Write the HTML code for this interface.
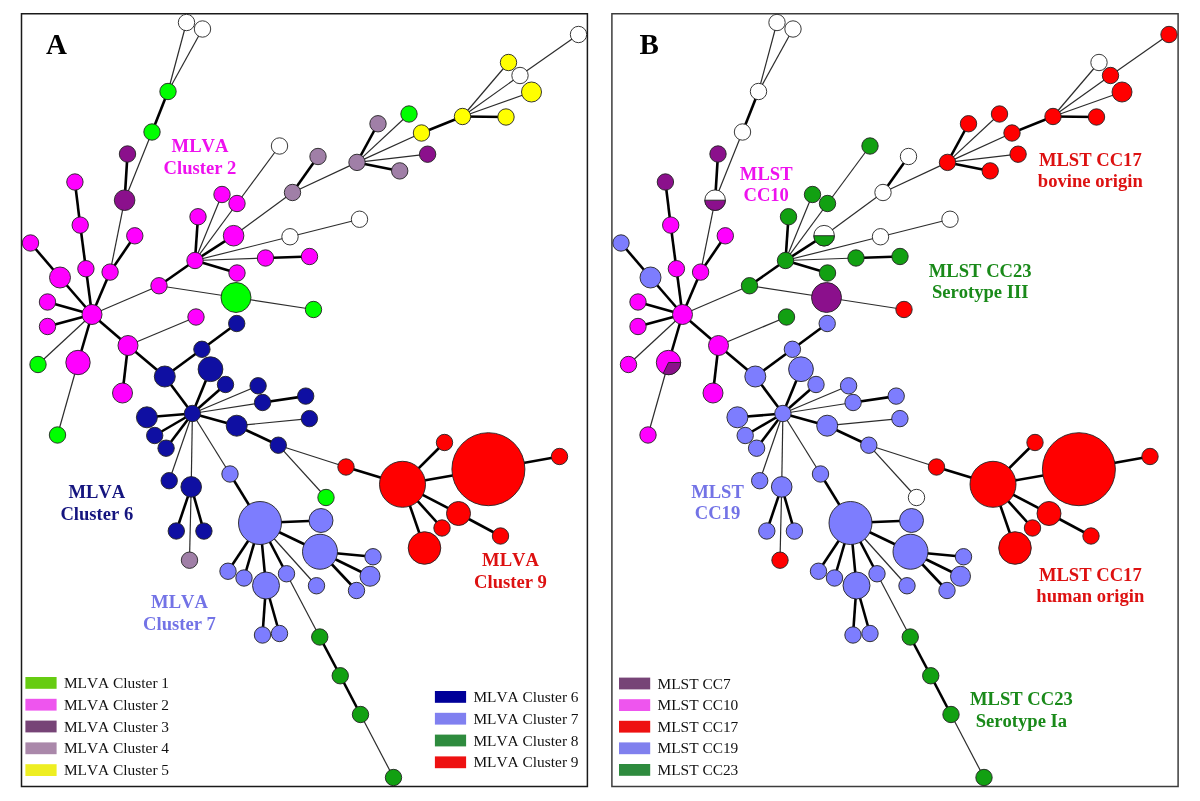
<!DOCTYPE html>
<html><head><meta charset="utf-8"><title>MLVA and MLST minimum spanning trees</title>
<style>
html,body{margin:0;padding:0;background:#fff;}
body{width:1200px;height:801px;overflow:hidden;}
svg{display:block;}
.t{stroke:#2c2c2c;stroke-width:1.2;}
.T{stroke:#000;stroke-width:2.6;}
.n{stroke:#222;stroke-width:0.9;}
.fr{fill:none;stroke-width:1.5;}
text{font-family:"Liberation Serif","Times New Roman",serif;font-kerning:none;}
.lb{font-weight:bold;font-size:18.6px;text-anchor:middle;}
.lg{font-size:15.4px;fill:#111;}
.big{font-weight:bold;font-size:29px;fill:#000;}
</style></head>
<body>
<svg width="1200" height="801" viewBox="0 0 1200 801">
<rect width="1200" height="801" fill="#fff"/>
<rect x="21.5" y="13.75" width="565.9" height="772.75" class="fr" stroke="#1a1a1a"/>
<rect x="611.9" y="13.75" width="566.2" height="772.75" class="fr" stroke="#3c3c3c"/>
<line x1="186.5" y1="22.5" x2="168" y2="91.5" class="t"/>
<line x1="202.5" y1="29" x2="168" y2="91.5" class="t"/>
<line x1="152" y1="132" x2="124.6" y2="200.2" class="t"/>
<line x1="124.6" y1="200.2" x2="110.1" y2="272.1" class="t"/>
<line x1="92" y1="314.5" x2="38" y2="364.5" class="t"/>
<line x1="92" y1="314.5" x2="159" y2="285.75" class="t"/>
<line x1="78" y1="362.5" x2="57.5" y2="435" class="t"/>
<line x1="128" y1="345.5" x2="196" y2="317" class="t"/>
<line x1="195" y1="260.5" x2="222" y2="194.5" class="t"/>
<line x1="195" y1="260.5" x2="237" y2="203.5" class="t"/>
<line x1="195" y1="260.5" x2="290" y2="236.75" class="t"/>
<line x1="195" y1="260.5" x2="265.5" y2="258" class="t"/>
<line x1="237" y1="203.5" x2="279.5" y2="146" class="t"/>
<line x1="233.6" y1="235.7" x2="292.5" y2="192.5" class="t"/>
<line x1="292.5" y1="192.5" x2="357" y2="162.4" class="t"/>
<line x1="357" y1="162.4" x2="409" y2="114" class="t"/>
<line x1="357" y1="162.4" x2="421.5" y2="133" class="t"/>
<line x1="357" y1="162.4" x2="427.6" y2="154.2" class="t"/>
<line x1="462.5" y1="116.5" x2="508.5" y2="62.5" class="t"/>
<line x1="462.5" y1="116.5" x2="520" y2="75.5" class="t"/>
<line x1="462.5" y1="116.5" x2="531.5" y2="92" class="t"/>
<line x1="520" y1="75.5" x2="578.5" y2="34.5" class="t"/>
<line x1="290" y1="236.75" x2="359.5" y2="219.25" class="t"/>
<line x1="159" y1="285.75" x2="236" y2="297.5" class="t"/>
<line x1="236" y1="297.5" x2="313.5" y2="309.5" class="t"/>
<line x1="192.4" y1="413.5" x2="258.1" y2="385.8" class="t"/>
<line x1="192.4" y1="413.5" x2="262.6" y2="402.5" class="t"/>
<line x1="236.7" y1="425.7" x2="309.4" y2="418.6" class="t"/>
<line x1="278.3" y1="445.2" x2="346" y2="467" class="t"/>
<line x1="278.3" y1="445.2" x2="326" y2="497.5" class="t"/>
<line x1="192.4" y1="413.5" x2="169.2" y2="480.7" class="t"/>
<line x1="192.4" y1="413.5" x2="191.2" y2="486.9" class="t"/>
<line x1="192.4" y1="413.5" x2="230" y2="474" class="t"/>
<line x1="191.2" y1="486.9" x2="189.5" y2="560.2" class="t"/>
<line x1="260" y1="523" x2="316.5" y2="585.75" class="t"/>
<line x1="286.5" y1="573.75" x2="319.75" y2="637" class="t"/>
<line x1="360.5" y1="714.5" x2="393.5" y2="777.5" class="t"/>
<line x1="168" y1="91.5" x2="152" y2="132" class="T"/>
<line x1="127.5" y1="154" x2="124.6" y2="200.2" class="T"/>
<line x1="74.9" y1="182" x2="80.2" y2="225.1" class="T"/>
<line x1="80.2" y1="225.1" x2="85.9" y2="268.7" class="T"/>
<line x1="85.9" y1="268.7" x2="92" y2="314.5" class="T"/>
<line x1="30.5" y1="243" x2="60" y2="277.5" class="T"/>
<line x1="60" y1="277.5" x2="92" y2="314.5" class="T"/>
<line x1="110.1" y1="272.1" x2="134.8" y2="235.8" class="T"/>
<line x1="110.1" y1="272.1" x2="92" y2="314.5" class="T"/>
<line x1="47.5" y1="302" x2="92" y2="314.5" class="T"/>
<line x1="47.5" y1="326.5" x2="92" y2="314.5" class="T"/>
<line x1="92" y1="314.5" x2="78" y2="362.5" class="T"/>
<line x1="92" y1="314.5" x2="128" y2="345.5" class="T"/>
<line x1="128" y1="345.5" x2="122.5" y2="393" class="T"/>
<line x1="128" y1="345.5" x2="164.8" y2="376.5" class="T"/>
<line x1="159" y1="285.75" x2="195" y2="260.5" class="T"/>
<line x1="195" y1="260.5" x2="198" y2="216.75" class="T"/>
<line x1="195" y1="260.5" x2="233.6" y2="235.7" class="T"/>
<line x1="195" y1="260.5" x2="237" y2="273" class="T"/>
<line x1="265.5" y1="258" x2="309.5" y2="256.5" class="T"/>
<line x1="292.5" y1="192.5" x2="318" y2="156.5" class="T"/>
<line x1="357" y1="162.4" x2="378" y2="123.75" class="T"/>
<line x1="357" y1="162.4" x2="399.7" y2="170.9" class="T"/>
<line x1="421.5" y1="133" x2="462.5" y2="116.5" class="T"/>
<line x1="462.5" y1="116.5" x2="506" y2="117" class="T"/>
<line x1="236.7" y1="323.5" x2="201.9" y2="349.3" class="T"/>
<line x1="201.9" y1="349.3" x2="164.8" y2="376.5" class="T"/>
<line x1="164.8" y1="376.5" x2="192.4" y2="413.5" class="T"/>
<line x1="192.4" y1="413.5" x2="210.5" y2="369.2" class="T"/>
<line x1="192.4" y1="413.5" x2="225.5" y2="384.5" class="T"/>
<line x1="262.6" y1="402.5" x2="305.7" y2="396.1" class="T"/>
<line x1="192.4" y1="413.5" x2="146.9" y2="417.3" class="T"/>
<line x1="192.4" y1="413.5" x2="154.7" y2="435.5" class="T"/>
<line x1="192.4" y1="413.5" x2="166.1" y2="448.2" class="T"/>
<line x1="192.4" y1="413.5" x2="236.7" y2="425.7" class="T"/>
<line x1="236.7" y1="425.7" x2="278.3" y2="445.2" class="T"/>
<line x1="191.2" y1="486.9" x2="176.3" y2="531" class="T"/>
<line x1="191.2" y1="486.9" x2="203.9" y2="531.1" class="T"/>
<line x1="230" y1="474" x2="260" y2="523" class="T"/>
<line x1="346" y1="467" x2="402.5" y2="484.3" class="T"/>
<line x1="402.5" y1="484.3" x2="444.5" y2="442.5" class="T"/>
<line x1="402.5" y1="484.3" x2="488.4" y2="469.2" class="T"/>
<line x1="488.4" y1="469.2" x2="559.5" y2="456.5" class="T"/>
<line x1="402.5" y1="484.3" x2="458.5" y2="513.5" class="T"/>
<line x1="458.5" y1="513.5" x2="500.5" y2="536" class="T"/>
<line x1="402.5" y1="484.3" x2="442" y2="528" class="T"/>
<line x1="402.5" y1="484.3" x2="424.5" y2="548" class="T"/>
<line x1="260" y1="523" x2="321" y2="520.5" class="T"/>
<line x1="260" y1="523" x2="320" y2="551.75" class="T"/>
<line x1="260" y1="523" x2="228" y2="571.25" class="T"/>
<line x1="260" y1="523" x2="244" y2="578" class="T"/>
<line x1="260" y1="523" x2="266" y2="585.5" class="T"/>
<line x1="260" y1="523" x2="286.5" y2="573.75" class="T"/>
<line x1="320" y1="551.75" x2="373" y2="556.75" class="T"/>
<line x1="320" y1="551.75" x2="370" y2="576.25" class="T"/>
<line x1="320" y1="551.75" x2="356.5" y2="590.5" class="T"/>
<line x1="266" y1="585.5" x2="262.5" y2="635" class="T"/>
<line x1="266" y1="585.5" x2="279.5" y2="633.5" class="T"/>
<line x1="319.75" y1="637" x2="340.25" y2="675.75" class="T"/>
<line x1="340.25" y1="675.75" x2="360.5" y2="714.5" class="T"/>
<circle cx="186.5" cy="22.5" r="8.2" fill="#ffffff" class="n"/>
<circle cx="202.5" cy="29" r="8.2" fill="#ffffff" class="n"/>
<circle cx="168" cy="91.5" r="8.2" fill="#00ff00" class="n"/>
<circle cx="152" cy="132" r="8.2" fill="#00ff00" class="n"/>
<circle cx="127.5" cy="154" r="8.2" fill="#8b108c" class="n"/>
<circle cx="124.6" cy="200.2" r="10.3" fill="#8b108c" class="n"/>
<circle cx="74.9" cy="182" r="8.2" fill="#ff00ff" class="n"/>
<circle cx="80.2" cy="225.1" r="8.2" fill="#ff00ff" class="n"/>
<circle cx="85.9" cy="268.7" r="8.2" fill="#ff00ff" class="n"/>
<circle cx="30.5" cy="243" r="8.2" fill="#ff00ff" class="n"/>
<circle cx="60" cy="277.5" r="10.5" fill="#ff00ff" class="n"/>
<circle cx="110.1" cy="272.1" r="8.2" fill="#ff00ff" class="n"/>
<circle cx="134.8" cy="235.8" r="8.2" fill="#ff00ff" class="n"/>
<circle cx="47.5" cy="302" r="8.2" fill="#ff00ff" class="n"/>
<circle cx="47.5" cy="326.5" r="8.2" fill="#ff00ff" class="n"/>
<circle cx="92" cy="314.5" r="10" fill="#ff00ff" class="n"/>
<circle cx="38" cy="364.5" r="8.2" fill="#00ff00" class="n"/>
<circle cx="78" cy="362.5" r="12.2" fill="#ff00ff" class="n"/>
<circle cx="57.5" cy="435" r="8.2" fill="#00ff00" class="n"/>
<circle cx="128" cy="345.5" r="10" fill="#ff00ff" class="n"/>
<circle cx="122.5" cy="393" r="10" fill="#ff00ff" class="n"/>
<circle cx="196" cy="317" r="8.2" fill="#ff00ff" class="n"/>
<circle cx="159" cy="285.75" r="8.2" fill="#ff00ff" class="n"/>
<circle cx="195" cy="260.5" r="8.2" fill="#ff00ff" class="n"/>
<circle cx="198" cy="216.75" r="8.2" fill="#ff00ff" class="n"/>
<circle cx="222" cy="194.5" r="8.2" fill="#ff00ff" class="n"/>
<circle cx="237" cy="203.5" r="8.2" fill="#ff00ff" class="n"/>
<circle cx="233.6" cy="235.7" r="10.3" fill="#ff00ff" class="n"/>
<circle cx="279.5" cy="146" r="8.2" fill="#ffffff" class="n"/>
<circle cx="292.5" cy="192.5" r="8.2" fill="#a07fa7" class="n"/>
<circle cx="318" cy="156.5" r="8.2" fill="#a07fa7" class="n"/>
<circle cx="357" cy="162.4" r="8.2" fill="#a07fa7" class="n"/>
<circle cx="378" cy="123.75" r="8.2" fill="#a07fa7" class="n"/>
<circle cx="409" cy="114" r="8.2" fill="#00ff00" class="n"/>
<circle cx="421.5" cy="133" r="8.2" fill="#ffff00" class="n"/>
<circle cx="427.6" cy="154.2" r="8.2" fill="#8b108c" class="n"/>
<circle cx="399.7" cy="170.9" r="8.2" fill="#a07fa7" class="n"/>
<circle cx="462.5" cy="116.5" r="8.2" fill="#ffff00" class="n"/>
<circle cx="508.5" cy="62.5" r="8.2" fill="#ffff00" class="n"/>
<circle cx="520" cy="75.5" r="8.2" fill="#ffffff" class="n"/>
<circle cx="531.5" cy="92" r="10" fill="#ffff00" class="n"/>
<circle cx="506" cy="117" r="8.2" fill="#ffff00" class="n"/>
<circle cx="578.5" cy="34.5" r="8.2" fill="#ffffff" class="n"/>
<circle cx="290" cy="236.75" r="8.2" fill="#ffffff" class="n"/>
<circle cx="359.5" cy="219.25" r="8.2" fill="#ffffff" class="n"/>
<circle cx="265.5" cy="258" r="8.2" fill="#ff00ff" class="n"/>
<circle cx="309.5" cy="256.5" r="8.2" fill="#ff00ff" class="n"/>
<circle cx="237" cy="273" r="8.2" fill="#ff00ff" class="n"/>
<circle cx="236" cy="297.5" r="15" fill="#00ff00" class="n"/>
<circle cx="313.5" cy="309.5" r="8.2" fill="#00ff00" class="n"/>
<circle cx="236.7" cy="323.5" r="8.2" fill="#0f0fa2" class="n"/>
<circle cx="201.9" cy="349.3" r="8.2" fill="#0f0fa2" class="n"/>
<circle cx="164.8" cy="376.5" r="10.5" fill="#0f0fa2" class="n"/>
<circle cx="210.5" cy="369.2" r="12.4" fill="#0f0fa2" class="n"/>
<circle cx="225.5" cy="384.5" r="8.2" fill="#0f0fa2" class="n"/>
<circle cx="258.1" cy="385.8" r="8.2" fill="#0f0fa2" class="n"/>
<circle cx="262.6" cy="402.5" r="8.2" fill="#0f0fa2" class="n"/>
<circle cx="305.7" cy="396.1" r="8.2" fill="#0f0fa2" class="n"/>
<circle cx="309.4" cy="418.6" r="8.2" fill="#0f0fa2" class="n"/>
<circle cx="192.4" cy="413.5" r="8.2" fill="#0f0fa2" class="n"/>
<circle cx="146.9" cy="417.3" r="10.5" fill="#0f0fa2" class="n"/>
<circle cx="154.7" cy="435.5" r="8.2" fill="#0f0fa2" class="n"/>
<circle cx="166.1" cy="448.2" r="8.2" fill="#0f0fa2" class="n"/>
<circle cx="236.7" cy="425.7" r="10.5" fill="#0f0fa2" class="n"/>
<circle cx="278.3" cy="445.2" r="8.2" fill="#0f0fa2" class="n"/>
<circle cx="169.2" cy="480.7" r="8.2" fill="#0f0fa2" class="n"/>
<circle cx="191.2" cy="486.9" r="10.3" fill="#0f0fa2" class="n"/>
<circle cx="176.3" cy="531" r="8.2" fill="#0f0fa2" class="n"/>
<circle cx="203.9" cy="531.1" r="8.2" fill="#0f0fa2" class="n"/>
<circle cx="189.5" cy="560.2" r="8.2" fill="#a07fa7" class="n"/>
<circle cx="230" cy="474" r="8.2" fill="#7d7dfe" class="n"/>
<circle cx="326" cy="497.5" r="8.2" fill="#00ff00" class="n"/>
<circle cx="346" cy="467" r="8.2" fill="#ff0000" class="n"/>
<circle cx="402.5" cy="484.3" r="23" fill="#ff0000" class="n"/>
<circle cx="444.5" cy="442.5" r="8.2" fill="#ff0000" class="n"/>
<circle cx="488.4" cy="469.2" r="36.5" fill="#ff0000" class="n"/>
<circle cx="559.5" cy="456.5" r="8.2" fill="#ff0000" class="n"/>
<circle cx="458.5" cy="513.5" r="12" fill="#ff0000" class="n"/>
<circle cx="442" cy="528" r="8.2" fill="#ff0000" class="n"/>
<circle cx="500.5" cy="536" r="8.2" fill="#ff0000" class="n"/>
<circle cx="424.5" cy="548" r="16.3" fill="#ff0000" class="n"/>
<circle cx="260" cy="523" r="21.5" fill="#7d7dfe" class="n"/>
<circle cx="321" cy="520.5" r="12" fill="#7d7dfe" class="n"/>
<circle cx="320" cy="551.75" r="17.5" fill="#7d7dfe" class="n"/>
<circle cx="373" cy="556.75" r="8.2" fill="#7d7dfe" class="n"/>
<circle cx="370" cy="576.25" r="10" fill="#7d7dfe" class="n"/>
<circle cx="356.5" cy="590.5" r="8.2" fill="#7d7dfe" class="n"/>
<circle cx="228" cy="571.25" r="8.2" fill="#7d7dfe" class="n"/>
<circle cx="244" cy="578" r="8.2" fill="#7d7dfe" class="n"/>
<circle cx="266" cy="585.5" r="13.5" fill="#7d7dfe" class="n"/>
<circle cx="286.5" cy="573.75" r="8.2" fill="#7d7dfe" class="n"/>
<circle cx="316.5" cy="585.75" r="8.2" fill="#7d7dfe" class="n"/>
<circle cx="262.5" cy="635" r="8.2" fill="#7d7dfe" class="n"/>
<circle cx="279.5" cy="633.5" r="8.2" fill="#7d7dfe" class="n"/>
<circle cx="319.75" cy="637" r="8.2" fill="#12a012" class="n"/>
<circle cx="340.25" cy="675.75" r="8.2" fill="#12a012" class="n"/>
<circle cx="360.5" cy="714.5" r="8.2" fill="#12a012" class="n"/>
<circle cx="393.5" cy="777.5" r="8.2" fill="#12a012" class="n"/>
<line x1="777" y1="22.5" x2="758.5" y2="91.5" class="t"/>
<line x1="793" y1="29" x2="758.5" y2="91.5" class="t"/>
<line x1="742.5" y1="132" x2="715.1" y2="200.2" class="t"/>
<line x1="715.1" y1="200.2" x2="700.6" y2="272.1" class="t"/>
<line x1="682.5" y1="314.5" x2="628.5" y2="364.5" class="t"/>
<line x1="682.5" y1="314.5" x2="749.5" y2="285.75" class="t"/>
<line x1="668.5" y1="362.5" x2="648" y2="435" class="t"/>
<line x1="718.5" y1="345.5" x2="786.5" y2="317" class="t"/>
<line x1="785.5" y1="260.5" x2="812.5" y2="194.5" class="t"/>
<line x1="785.5" y1="260.5" x2="827.5" y2="203.5" class="t"/>
<line x1="785.5" y1="260.5" x2="880.5" y2="236.75" class="t"/>
<line x1="785.5" y1="260.5" x2="856" y2="258" class="t"/>
<line x1="827.5" y1="203.5" x2="870" y2="146" class="t"/>
<line x1="824.1" y1="235.7" x2="883" y2="192.5" class="t"/>
<line x1="883" y1="192.5" x2="947.5" y2="162.4" class="t"/>
<line x1="947.5" y1="162.4" x2="999.5" y2="114" class="t"/>
<line x1="947.5" y1="162.4" x2="1012" y2="133" class="t"/>
<line x1="947.5" y1="162.4" x2="1018.1" y2="154.2" class="t"/>
<line x1="1053" y1="116.5" x2="1099" y2="62.5" class="t"/>
<line x1="1053" y1="116.5" x2="1110.5" y2="75.5" class="t"/>
<line x1="1053" y1="116.5" x2="1122" y2="92" class="t"/>
<line x1="1110.5" y1="75.5" x2="1169" y2="34.5" class="t"/>
<line x1="880.5" y1="236.75" x2="950" y2="219.25" class="t"/>
<line x1="749.5" y1="285.75" x2="826.5" y2="297.5" class="t"/>
<line x1="826.5" y1="297.5" x2="904" y2="309.5" class="t"/>
<line x1="782.9" y1="413.5" x2="848.6" y2="385.8" class="t"/>
<line x1="782.9" y1="413.5" x2="853.1" y2="402.5" class="t"/>
<line x1="827.2" y1="425.7" x2="899.9" y2="418.6" class="t"/>
<line x1="868.8" y1="445.2" x2="936.5" y2="467" class="t"/>
<line x1="868.8" y1="445.2" x2="916.5" y2="497.5" class="t"/>
<line x1="782.9" y1="413.5" x2="759.7" y2="480.7" class="t"/>
<line x1="782.9" y1="413.5" x2="781.7" y2="486.9" class="t"/>
<line x1="782.9" y1="413.5" x2="820.5" y2="474" class="t"/>
<line x1="781.7" y1="486.9" x2="780" y2="560.2" class="t"/>
<line x1="850.5" y1="523" x2="907" y2="585.75" class="t"/>
<line x1="877" y1="573.75" x2="910.25" y2="637" class="t"/>
<line x1="951" y1="714.5" x2="984" y2="777.5" class="t"/>
<line x1="758.5" y1="91.5" x2="742.5" y2="132" class="T"/>
<line x1="718" y1="154" x2="715.1" y2="200.2" class="T"/>
<line x1="665.4" y1="182" x2="670.7" y2="225.1" class="T"/>
<line x1="670.7" y1="225.1" x2="676.4" y2="268.7" class="T"/>
<line x1="676.4" y1="268.7" x2="682.5" y2="314.5" class="T"/>
<line x1="621" y1="243" x2="650.5" y2="277.5" class="T"/>
<line x1="650.5" y1="277.5" x2="682.5" y2="314.5" class="T"/>
<line x1="700.6" y1="272.1" x2="725.3" y2="235.8" class="T"/>
<line x1="700.6" y1="272.1" x2="682.5" y2="314.5" class="T"/>
<line x1="638" y1="302" x2="682.5" y2="314.5" class="T"/>
<line x1="638" y1="326.5" x2="682.5" y2="314.5" class="T"/>
<line x1="682.5" y1="314.5" x2="668.5" y2="362.5" class="T"/>
<line x1="682.5" y1="314.5" x2="718.5" y2="345.5" class="T"/>
<line x1="718.5" y1="345.5" x2="713" y2="393" class="T"/>
<line x1="718.5" y1="345.5" x2="755.3" y2="376.5" class="T"/>
<line x1="749.5" y1="285.75" x2="785.5" y2="260.5" class="T"/>
<line x1="785.5" y1="260.5" x2="788.5" y2="216.75" class="T"/>
<line x1="785.5" y1="260.5" x2="824.1" y2="235.7" class="T"/>
<line x1="785.5" y1="260.5" x2="827.5" y2="273" class="T"/>
<line x1="856" y1="258" x2="900" y2="256.5" class="T"/>
<line x1="883" y1="192.5" x2="908.5" y2="156.5" class="T"/>
<line x1="947.5" y1="162.4" x2="968.5" y2="123.75" class="T"/>
<line x1="947.5" y1="162.4" x2="990.2" y2="170.9" class="T"/>
<line x1="1012" y1="133" x2="1053" y2="116.5" class="T"/>
<line x1="1053" y1="116.5" x2="1096.5" y2="117" class="T"/>
<line x1="827.2" y1="323.5" x2="792.4" y2="349.3" class="T"/>
<line x1="792.4" y1="349.3" x2="755.3" y2="376.5" class="T"/>
<line x1="755.3" y1="376.5" x2="782.9" y2="413.5" class="T"/>
<line x1="782.9" y1="413.5" x2="801" y2="369.2" class="T"/>
<line x1="782.9" y1="413.5" x2="816" y2="384.5" class="T"/>
<line x1="853.1" y1="402.5" x2="896.2" y2="396.1" class="T"/>
<line x1="782.9" y1="413.5" x2="737.4" y2="417.3" class="T"/>
<line x1="782.9" y1="413.5" x2="745.2" y2="435.5" class="T"/>
<line x1="782.9" y1="413.5" x2="756.6" y2="448.2" class="T"/>
<line x1="782.9" y1="413.5" x2="827.2" y2="425.7" class="T"/>
<line x1="827.2" y1="425.7" x2="868.8" y2="445.2" class="T"/>
<line x1="781.7" y1="486.9" x2="766.8" y2="531" class="T"/>
<line x1="781.7" y1="486.9" x2="794.4" y2="531.1" class="T"/>
<line x1="820.5" y1="474" x2="850.5" y2="523" class="T"/>
<line x1="936.5" y1="467" x2="993" y2="484.3" class="T"/>
<line x1="993" y1="484.3" x2="1035" y2="442.5" class="T"/>
<line x1="993" y1="484.3" x2="1078.9" y2="469.2" class="T"/>
<line x1="1078.9" y1="469.2" x2="1150" y2="456.5" class="T"/>
<line x1="993" y1="484.3" x2="1049" y2="513.5" class="T"/>
<line x1="1049" y1="513.5" x2="1091" y2="536" class="T"/>
<line x1="993" y1="484.3" x2="1032.5" y2="528" class="T"/>
<line x1="993" y1="484.3" x2="1015" y2="548" class="T"/>
<line x1="850.5" y1="523" x2="911.5" y2="520.5" class="T"/>
<line x1="850.5" y1="523" x2="910.5" y2="551.75" class="T"/>
<line x1="850.5" y1="523" x2="818.5" y2="571.25" class="T"/>
<line x1="850.5" y1="523" x2="834.5" y2="578" class="T"/>
<line x1="850.5" y1="523" x2="856.5" y2="585.5" class="T"/>
<line x1="850.5" y1="523" x2="877" y2="573.75" class="T"/>
<line x1="910.5" y1="551.75" x2="963.5" y2="556.75" class="T"/>
<line x1="910.5" y1="551.75" x2="960.5" y2="576.25" class="T"/>
<line x1="910.5" y1="551.75" x2="947" y2="590.5" class="T"/>
<line x1="856.5" y1="585.5" x2="853" y2="635" class="T"/>
<line x1="856.5" y1="585.5" x2="870" y2="633.5" class="T"/>
<line x1="910.25" y1="637" x2="930.75" y2="675.75" class="T"/>
<line x1="930.75" y1="675.75" x2="951" y2="714.5" class="T"/>
<circle cx="777" cy="22.5" r="8.2" fill="#ffffff" class="n"/>
<circle cx="793" cy="29" r="8.2" fill="#ffffff" class="n"/>
<circle cx="758.5" cy="91.5" r="8.2" fill="#ffffff" class="n"/>
<circle cx="742.5" cy="132" r="8.2" fill="#ffffff" class="n"/>
<circle cx="718" cy="154" r="8.2" fill="#8b108c" class="n"/>
<circle cx="715.1" cy="200.2" r="10.3" fill="#ffffff" class="n"/>
<path d="M704.8 200.2 A10.3 10.3 0 0 0 725.4 200.2 Z" fill="#8b108c" class="n"/>
<circle cx="665.4" cy="182" r="8.2" fill="#8b108c" class="n"/>
<circle cx="670.7" cy="225.1" r="8.2" fill="#ff00ff" class="n"/>
<circle cx="676.4" cy="268.7" r="8.2" fill="#ff00ff" class="n"/>
<circle cx="621" cy="243" r="8.2" fill="#7d7dfe" class="n"/>
<circle cx="650.5" cy="277.5" r="10.5" fill="#7d7dfe" class="n"/>
<circle cx="700.6" cy="272.1" r="8.2" fill="#ff00ff" class="n"/>
<circle cx="725.3" cy="235.8" r="8.2" fill="#ff00ff" class="n"/>
<circle cx="638" cy="302" r="8.2" fill="#ff00ff" class="n"/>
<circle cx="638" cy="326.5" r="8.2" fill="#ff00ff" class="n"/>
<circle cx="682.5" cy="314.5" r="10" fill="#ff00ff" class="n"/>
<circle cx="628.5" cy="364.5" r="8.2" fill="#ff00ff" class="n"/>
<circle cx="668.5" cy="362.5" r="12.2" fill="#ff00ff" class="n"/>
<path d="M668.5 362.5 L680.7 362.5 A12.2 12.2 0 0 1 663.15 373.47 Z" fill="#8b108c" class="n"/>
<circle cx="648" cy="435" r="8.2" fill="#ff00ff" class="n"/>
<circle cx="718.5" cy="345.5" r="10" fill="#ff00ff" class="n"/>
<circle cx="713" cy="393" r="10" fill="#ff00ff" class="n"/>
<circle cx="786.5" cy="317" r="8.2" fill="#12a012" class="n"/>
<circle cx="749.5" cy="285.75" r="8.2" fill="#12a012" class="n"/>
<circle cx="785.5" cy="260.5" r="8.2" fill="#12a012" class="n"/>
<circle cx="788.5" cy="216.75" r="8.2" fill="#12a012" class="n"/>
<circle cx="812.5" cy="194.5" r="8.2" fill="#12a012" class="n"/>
<circle cx="827.5" cy="203.5" r="8.2" fill="#12a012" class="n"/>
<circle cx="824.1" cy="235.7" r="10.3" fill="#ffffff" class="n"/>
<path d="M813.8 235.7 A10.3 10.3 0 0 0 834.4 235.7 Z" fill="#12a012" class="n"/>
<circle cx="870" cy="146" r="8.2" fill="#12a012" class="n"/>
<circle cx="883" cy="192.5" r="8.2" fill="#ffffff" class="n"/>
<circle cx="908.5" cy="156.5" r="8.2" fill="#ffffff" class="n"/>
<circle cx="947.5" cy="162.4" r="8.2" fill="#ff0000" class="n"/>
<circle cx="968.5" cy="123.75" r="8.2" fill="#ff0000" class="n"/>
<circle cx="999.5" cy="114" r="8.2" fill="#ff0000" class="n"/>
<circle cx="1012" cy="133" r="8.2" fill="#ff0000" class="n"/>
<circle cx="1018.1" cy="154.2" r="8.2" fill="#ff0000" class="n"/>
<circle cx="990.2" cy="170.9" r="8.2" fill="#ff0000" class="n"/>
<circle cx="1053" cy="116.5" r="8.2" fill="#ff0000" class="n"/>
<circle cx="1099" cy="62.5" r="8.2" fill="#ffffff" class="n"/>
<circle cx="1110.5" cy="75.5" r="8.2" fill="#ff0000" class="n"/>
<circle cx="1122" cy="92" r="10" fill="#ff0000" class="n"/>
<circle cx="1096.5" cy="117" r="8.2" fill="#ff0000" class="n"/>
<circle cx="1169" cy="34.5" r="8.2" fill="#ff0000" class="n"/>
<circle cx="880.5" cy="236.75" r="8.2" fill="#ffffff" class="n"/>
<circle cx="950" cy="219.25" r="8.2" fill="#ffffff" class="n"/>
<circle cx="856" cy="258" r="8.2" fill="#12a012" class="n"/>
<circle cx="900" cy="256.5" r="8.2" fill="#12a012" class="n"/>
<circle cx="827.5" cy="273" r="8.2" fill="#12a012" class="n"/>
<circle cx="826.5" cy="297.5" r="15" fill="#8b108c" class="n"/>
<circle cx="904" cy="309.5" r="8.2" fill="#ff0000" class="n"/>
<circle cx="827.2" cy="323.5" r="8.2" fill="#7d7dfe" class="n"/>
<circle cx="792.4" cy="349.3" r="8.2" fill="#7d7dfe" class="n"/>
<circle cx="755.3" cy="376.5" r="10.5" fill="#7d7dfe" class="n"/>
<circle cx="801" cy="369.2" r="12.4" fill="#7d7dfe" class="n"/>
<circle cx="816" cy="384.5" r="8.2" fill="#7d7dfe" class="n"/>
<circle cx="848.6" cy="385.8" r="8.2" fill="#7d7dfe" class="n"/>
<circle cx="853.1" cy="402.5" r="8.2" fill="#7d7dfe" class="n"/>
<circle cx="896.2" cy="396.1" r="8.2" fill="#7d7dfe" class="n"/>
<circle cx="899.9" cy="418.6" r="8.2" fill="#7d7dfe" class="n"/>
<circle cx="782.9" cy="413.5" r="8.2" fill="#7d7dfe" class="n"/>
<circle cx="737.4" cy="417.3" r="10.5" fill="#7d7dfe" class="n"/>
<circle cx="745.2" cy="435.5" r="8.2" fill="#7d7dfe" class="n"/>
<circle cx="756.6" cy="448.2" r="8.2" fill="#7d7dfe" class="n"/>
<circle cx="827.2" cy="425.7" r="10.5" fill="#7d7dfe" class="n"/>
<circle cx="868.8" cy="445.2" r="8.2" fill="#7d7dfe" class="n"/>
<circle cx="759.7" cy="480.7" r="8.2" fill="#7d7dfe" class="n"/>
<circle cx="781.7" cy="486.9" r="10.3" fill="#7d7dfe" class="n"/>
<circle cx="766.8" cy="531" r="8.2" fill="#7d7dfe" class="n"/>
<circle cx="794.4" cy="531.1" r="8.2" fill="#7d7dfe" class="n"/>
<circle cx="780" cy="560.2" r="8.2" fill="#ff0000" class="n"/>
<circle cx="820.5" cy="474" r="8.2" fill="#7d7dfe" class="n"/>
<circle cx="916.5" cy="497.5" r="8.2" fill="#ffffff" class="n"/>
<circle cx="936.5" cy="467" r="8.2" fill="#ff0000" class="n"/>
<circle cx="993" cy="484.3" r="23" fill="#ff0000" class="n"/>
<circle cx="1035" cy="442.5" r="8.2" fill="#ff0000" class="n"/>
<circle cx="1078.9" cy="469.2" r="36.5" fill="#ff0000" class="n"/>
<circle cx="1150" cy="456.5" r="8.2" fill="#ff0000" class="n"/>
<circle cx="1049" cy="513.5" r="12" fill="#ff0000" class="n"/>
<circle cx="1032.5" cy="528" r="8.2" fill="#ff0000" class="n"/>
<circle cx="1091" cy="536" r="8.2" fill="#ff0000" class="n"/>
<circle cx="1015" cy="548" r="16.3" fill="#ff0000" class="n"/>
<circle cx="850.5" cy="523" r="21.5" fill="#7d7dfe" class="n"/>
<circle cx="911.5" cy="520.5" r="12" fill="#7d7dfe" class="n"/>
<circle cx="910.5" cy="551.75" r="17.5" fill="#7d7dfe" class="n"/>
<circle cx="963.5" cy="556.75" r="8.2" fill="#7d7dfe" class="n"/>
<circle cx="960.5" cy="576.25" r="10" fill="#7d7dfe" class="n"/>
<circle cx="947" cy="590.5" r="8.2" fill="#7d7dfe" class="n"/>
<circle cx="818.5" cy="571.25" r="8.2" fill="#7d7dfe" class="n"/>
<circle cx="834.5" cy="578" r="8.2" fill="#7d7dfe" class="n"/>
<circle cx="856.5" cy="585.5" r="13.5" fill="#7d7dfe" class="n"/>
<circle cx="877" cy="573.75" r="8.2" fill="#7d7dfe" class="n"/>
<circle cx="907" cy="585.75" r="8.2" fill="#7d7dfe" class="n"/>
<circle cx="853" cy="635" r="8.2" fill="#7d7dfe" class="n"/>
<circle cx="870" cy="633.5" r="8.2" fill="#7d7dfe" class="n"/>
<circle cx="910.25" cy="637" r="8.2" fill="#12a012" class="n"/>
<circle cx="930.75" cy="675.75" r="8.2" fill="#12a012" class="n"/>
<circle cx="951" cy="714.5" r="8.2" fill="#12a012" class="n"/>
<circle cx="984" cy="777.5" r="8.2" fill="#12a012" class="n"/>
<text x="46" y="53.7" class="big">A</text>
<text x="639.5" y="53.7" class="big">B</text>
<text x="200" y="152" fill="#ee11ee" class="lb">MLVA</text>
<text x="200" y="173.5" fill="#ee11ee" class="lb">Cluster 2</text>
<text x="96.8" y="498" fill="#15157f" class="lb">MLVA</text>
<text x="96.8" y="519.5" fill="#15157f" class="lb">Cluster 6</text>
<text x="179.5" y="608" fill="#7373e6" class="lb">MLVA</text>
<text x="179.5" y="629.5" fill="#7373e6" class="lb">Cluster 7</text>
<text x="510.5" y="566" fill="#dd1111" class="lb">MLVA</text>
<text x="510.5" y="587.5" fill="#dd1111" class="lb">Cluster 9</text>
<text x="766.2" y="179.5" fill="#ee11ee" class="lb">MLST</text>
<text x="766.2" y="201" fill="#ee11ee" class="lb">CC10</text>
<text x="717.5" y="497.5" fill="#7373e6" class="lb">MLST</text>
<text x="717.5" y="519" fill="#7373e6" class="lb">CC19</text>
<text x="1090.3" y="165.5" fill="#dd1111" class="lb">MLST CC17</text>
<text x="1090.3" y="187" fill="#dd1111" class="lb">bovine origin</text>
<text x="980.2" y="276.5" fill="#1a8a1a" class="lb">MLST CC23</text>
<text x="980.2" y="298" fill="#1a8a1a" class="lb">Serotype III</text>
<text x="1090.3" y="580.6" fill="#dd1111" class="lb">MLST CC17</text>
<text x="1090.3" y="602.1" fill="#dd1111" class="lb">human origin</text>
<text x="1021.4" y="705" fill="#1a8a1a" class="lb">MLST CC23</text>
<text x="1021.4" y="726.5" fill="#1a8a1a" class="lb">Serotype Ia</text>
<rect x="25.4" y="677" width="31.2" height="11.8" fill="#66cc11"/>
<text x="63.9" y="688" class="lg">MLVA Cluster 1</text>
<rect x="25.4" y="698.8" width="31.2" height="11.8" fill="#ee55ee"/>
<text x="63.9" y="709.8" class="lg">MLVA Cluster 2</text>
<rect x="25.4" y="720.6" width="31.2" height="11.8" fill="#774477"/>
<text x="63.9" y="731.6" class="lg">MLVA Cluster 3</text>
<rect x="25.4" y="742.4" width="31.2" height="11.8" fill="#aa88aa"/>
<text x="63.9" y="753.4" class="lg">MLVA Cluster 4</text>
<rect x="25.4" y="764.2" width="31.2" height="11.8" fill="#eeee22"/>
<text x="63.9" y="775.2" class="lg">MLVA Cluster 5</text>
<rect x="434.9" y="691" width="31.2" height="11.8" fill="#000099"/>
<text x="473.4" y="702" class="lg">MLVA Cluster 6</text>
<rect x="434.9" y="712.8" width="31.2" height="11.8" fill="#8080f0"/>
<text x="473.4" y="723.8" class="lg">MLVA Cluster 7</text>
<rect x="434.9" y="734.6" width="31.2" height="11.8" fill="#2e8b3e"/>
<text x="473.4" y="745.6" class="lg">MLVA Cluster 8</text>
<rect x="434.9" y="756.4" width="31.2" height="11.8" fill="#ee1111"/>
<text x="473.4" y="767.4" class="lg">MLVA Cluster 9</text>
<rect x="619" y="677.6" width="31.2" height="11.8" fill="#774477"/>
<text x="657.5" y="688.6" class="lg">MLST CC7</text>
<rect x="619" y="699.2" width="31.2" height="11.8" fill="#ee55ee"/>
<text x="657.5" y="710.2" class="lg">MLST CC10</text>
<rect x="619" y="720.8" width="31.2" height="11.8" fill="#ee1111"/>
<text x="657.5" y="731.8" class="lg">MLST CC17</text>
<rect x="619" y="742.4" width="31.2" height="11.8" fill="#8080ee"/>
<text x="657.5" y="753.4" class="lg">MLST CC19</text>
<rect x="619" y="764" width="31.2" height="11.8" fill="#2e8b3e"/>
<text x="657.5" y="775" class="lg">MLST CC23</text>
</svg>
</body></html>
